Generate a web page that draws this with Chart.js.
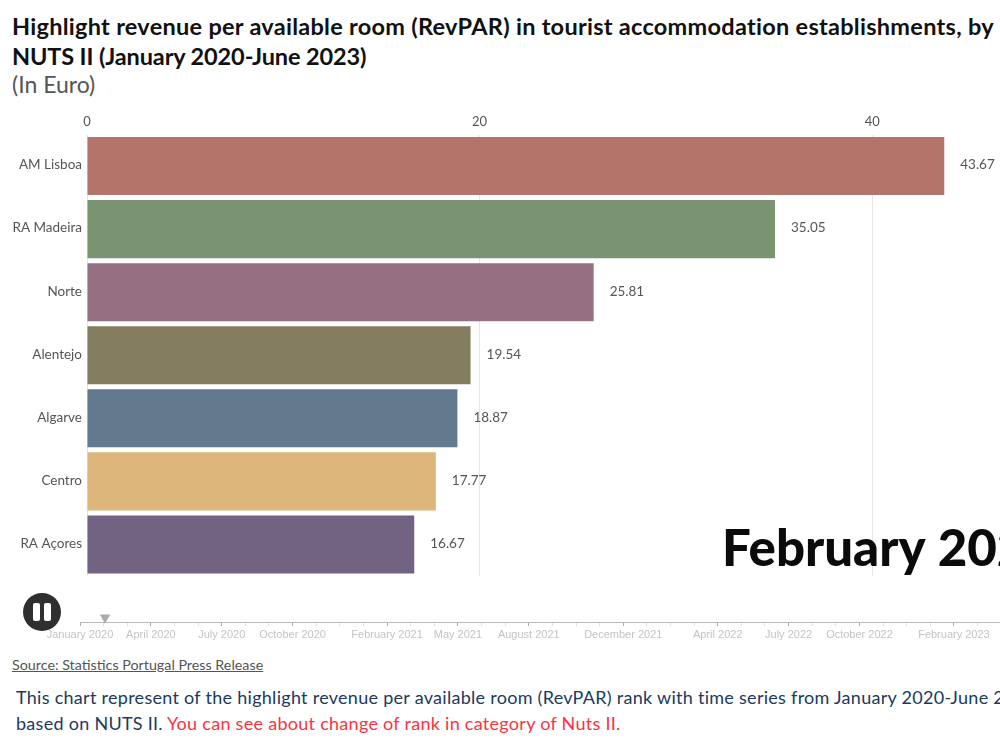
<!DOCTYPE html>
<html>
<head>
<meta charset="utf-8">
<script src="https://cdn.jsdelivr.net/npm/chart.js@4"></script>
<style>
html,body{margin:0;padding:0;background:#fff;width:1000px;height:750px;overflow:hidden;font-family:Lato,sans-serif}
.t{position:absolute;white-space:nowrap}
#t1,#t2{left:12px;font-weight:700;font-size:23.5px;line-height:28px;color:#111}
#t1{top:12px;letter-spacing:0.28px}#t2{top:42px;letter-spacing:-0.12px}
#t3{left:12px;top:70px;font-size:23px;line-height:28px;color:#555}
#src{left:12px;top:656px;font-size:14.3px;line-height:18px;color:#555;text-decoration:underline}
.d{left:16px;font-size:18px;line-height:24px;color:#1b3a5f;letter-spacing:0.28px}
#d1{top:685px}#d2{top:711px}
#d2 span{color:#fb3340}
canvas{position:absolute;left:0}
#main{position:absolute;left:0;top:100px;width:1000px;height:476px}
#tl{position:absolute;left:0;top:600px;width:1000px;height:50px}
#pause{position:absolute;left:23px;top:593px;width:38px;height:38px;border-radius:50%;background:#2f2f2f}
#pause i{position:absolute;top:10px;width:7px;height:18px;background:#fff;border-radius:2px}
</style>
</head>
<body>
<div class="t" id="t1">Highlight revenue per available room (RevPAR) in tourist accommodation establishments, by</div>
<div class="t" id="t2">NUTS II (January 2020-June 2023)</div>
<div class="t" id="t3">(In Euro)</div>
<div id="main"><canvas id="c1"></canvas></div>
<div id="tl"><canvas id="c2"></canvas></div>
<div id="pause"><i style="left:10px"></i><i style="left:21px"></i></div>
<div class="t" id="src">Source: Statistics Portugal Press Release</div>
<div class="t d" id="d1">This chart represent of the highlight revenue per available room (RevPAR) rank with time series from January 2020-June 2023</div>
<div class="t d" id="d2">based on NUTS II. <span>You can see about change of rank in category of Nuts II.</span></div>
<script>
const categories = ["AM Lisboa","RA Madeira","Norte","Alentejo","Algarve","Centro","RA Açores"];
const revpar = [43.67,35.05,25.81,19.54,18.87,17.77,16.67];
const barColors = ["rgba(178,112,100,0.97)","rgba(118,144,108,0.97)","rgba(146,106,126,0.97)","rgba(128,121,90,0.97)","rgba(94,117,138,0.97)","rgba(219,180,118,0.97)","rgba(109,94,126,0.97)"];
const currentFrame = "February 2020";
const timelineLabels = {0:"January 2020",3:"April 2020",6:"July 2020",9:"October 2020",13:"February 2021",16:"May 2021",19:"August 2021",23:"December 2021",27:"April 2022",30:"July 2022",33:"October 2022",37:"February 2023"};
const currentMonthMark = 1.06;

const valueLabels = {
  id:"valueLabels",
  afterDatasetsDraw(chart){
    const {ctx,chartArea} = chart;
    const meta = chart.getDatasetMeta(0);
    ctx.save();
    ctx.font = "13.5px Lato, sans-serif";
    ctx.fillStyle = "#555";
    ctx.textAlign = "left";
    ctx.textBaseline = "middle";
    meta.data.forEach((bar,i)=>ctx.fillText(revpar[i].toFixed(2),bar.x+16,bar.y-1));
    ctx.font = "900 51px Lato, sans-serif";
    ctx.fillStyle = "#0b0b0b";
    ctx.textBaseline = "alphabetic";
    ctx.fillText(currentFrame,chartArea.left+635,chartArea.bottom-10);
    ctx.restore();
  }
};

new Chart(document.getElementById("c1"),{
  type:"bar",
  data:{labels:categories,datasets:[{data:revpar,backgroundColor:barColors,borderWidth:0,barPercentage:58/63,categoryPercentage:1}]},
  plugins:[valueLabels],
  options:{
    indexAxis:"y",responsive:true,maintainAspectRatio:false,animation:false,
    layout:{padding:0},
    plugins:{legend:{display:false},tooltip:{enabled:false}},
    scales:{
      x:{
        position:"top",min:0,max:46.51,
        afterFit(s){s.height=34.5;},
        border:{display:false},
        grid:{color:"#e6e6e6",drawTicks:false},
        ticks:{stepSize:20,includeBounds:false,color:"#555",font:{family:"Lato",size:13},padding:5,maxRotation:0,
          callback:v=>v%20===0?String(v):""}
      },
      y:{
        afterFit(s){s.width=87;s.paddingTop=0;s.paddingBottom=0;},
        border:{display:false},
        grid:{display:false,drawTicks:false},
        ticks:{color:"#555",font:{family:"Lato",size:13.5},padding:5,labelOffset:-1}
      }
    }
  }
});

new Chart(document.getElementById("c2"),{
  type:"scatter",
  data:{datasets:[{data:[{x:currentMonthMark,y:0.2}],pointStyle:"triangle",rotation:180,pointRadius:6,backgroundColor:"#aaa",borderWidth:0,clip:false}]},
  options:{
    responsive:true,maintainAspectRatio:false,animation:false,
    layout:{autoPadding:false,padding:{left:80,right:0,top:0,bottom:0}},
    plugins:{legend:{display:false},tooltip:{enabled:false}},
    scales:{
      y:{display:false,min:0,max:1},
      x:{
        type:"linear",min:0,max:38.95,
        afterFit(s){s.height=28;s.paddingLeft=0;s.paddingRight=0;},
        border:{display:true,color:"#bbb",width:1},
        grid:{drawOnChartArea:false,tickLength:4,
          tickColor:c=>timelineLabels[c.tick&&c.tick.value]?"#aaa":"#e2e2e2"},
        ticks:{stepSize:1,autoSkip:false,includeBounds:false,maxRotation:0,color:"#c4c4c4",
          font:{family:"Liberation Sans",size:11},padding:2,
          callback:v=>timelineLabels[v]||""}
      }
    }
  }
});
</script>
</body>
</html>
